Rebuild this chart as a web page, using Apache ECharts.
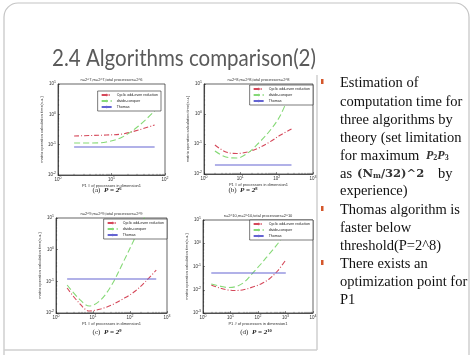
<!DOCTYPE html>
<html><head><meta charset="utf-8">
<script src="https://cdn.jsdelivr.net/npm/echarts@6/dist/echarts.min.js"></script>
<style>html,body{margin:0;padding:0;background:#fff}#c{width:474px;height:355px}</style>
</head><body><div id="c"></div>
<script>
// ---- data ----
const P1_a = [2, 4, 8, 16, 32, 64];
const cyclic_a = [0.193, 0.200, 0.208, 0.225, 0.305, 0.445];
const divide_a = [0.1135, 0.1135, 0.1225, 0.179, 0.413, 1.29];
const thomas_a = [0.0837, 0.0837, 0.0837, 0.0837, 0.0837, 0.0837];

const P1_b = [2, 4, 8, 16, 32, 64, 128, 256];
const cyclic_b = [0.0927, 0.0541, 0.0482, 0.0541, 0.0736, 0.1166, 0.1995, 0.316];
const divide_b = [0.0584, 0.0368, 0.0341, 0.0501, 0.108, 0.271, 0.926, 6.81];
const thomas_b = [0.02, 0.02, 0.02, 0.02, 0.02, 0.02, 0.02, 0.02];

const P1_c = [2, 4, 8, 16, 32, 64, 128, 256, 512];
const cyclic_c = [0.0615, 0.0222, 0.01156, 0.01337, 0.0179, 0.0277, 0.046, 0.0953, 0.228];
const divide_c = [0.0766, 0.0298, 0.0166, 0.0257, 0.0766, 0.379, 2.02, 11.6];
const thomas_c = [0.1186, 0.1186, 0.1186, 0.1186, 0.1186, 0.1186, 0.1186, 0.1186, 0.1186];

const P1_d = [2, 4, 8, 16, 32, 64, 128, 256, 512, 1024];
const cyclic_d = [0.016, 0.0119, 0.00975, 0.00929, 0.01026, 0.0131, 0.0177, 0.029, 0.064, 0.1905];
const divide_d = [0.0177, 0.0145, 0.0125, 0.0138, 0.0215, 0.0525, 0.128, 0.345, 0.929, 3.05];
const thomas_d = [0.0525, 0.0525, 0.0525, 0.0525, 0.0525, 0.0525, 0.0525, 0.0525, 0.0525, 0.0525];

const seriesNames = ['Cyclic odd-even reduction', 'divide-conquer', 'Thomas'];
const subTitles = ['n=2^7,m=2^7,total processors=2^6', 'n=2^8,m=2^8,total processors=2^8',
                   'n=2^9,m=2^9,total processors=2^9', 'n=2^10,m=2^10,total processors=2^10'];
const captionExp = ['6', '8', '9', '10'];
const captionTag = ['(a)', '(b)', '(c)', '(d)'];
const xMax = [100, 1000, 1000, 10000];
const yMin = [0.01, 0.01, 0.01, 0.001];
const yMax = [10, 10, 10, 10];
const yName = 'matrix operation calculation time(s.u.)';
const xName = 'P1 # of processors in dimension1';

const panels = [
  {P: P1_a, c: cyclic_a, d: divide_a, t: thomas_a},
  {P: P1_b, c: cyclic_b, d: divide_b, t: thomas_b},
  {P: P1_c, c: cyclic_c, d: divide_c, t: thomas_c},
  {P: P1_d, c: cyclic_d, d: divide_d, t: thomas_d}
];

// ---- layout ----
const grids = [
  {left: 58, top: 84, width: 107, height: 91},
  {left: 204, top: 84, width: 109, height: 90},
  {left: 56, top: 218, width: 111, height: 95},
  {left: 203, top: 220, width: 110, height: 93}
];
const legendPos = [
  {right: 474 - 161, top: 91},
  {right: 474 - 313, top: 85},
  {right: 474 - 167, top: 219},
  {right: 474 - 313, top: 220}
];
const captionPos = [[107, 190], [243, 190], [107, 332], [256, 332]];

const colors = ['#d5485a', '#86d977', '#6464d2'];
const dashes = [[5, 2, 1, 2], [6, 3], 'solid'];

function expFmt(v) {
  const e = Math.round(Math.log10(v));
  return '{b|10}{s|' + e + '}';
}
const tickRich = {b: {fontSize: 4.5, color: '#333'}, s: {fontSize: 3.5, color: '#333', verticalAlign: 'bottom', padding: [0, 0, 3, 0]}};

const option = {
  animation: false,
  backgroundColor: '#fff',
  grid: grids.map(g => Object.assign({show: true, borderColor: '#222', borderWidth: 0.7, backgroundColor: '#fff'}, g)),
  xAxis: grids.map((g, i) => ({
    type: 'log', logBase: 10, gridIndex: i, min: 1, max: xMax[i],
    name: xName, nameLocation: 'middle', nameGap: 6,
    nameTextStyle: {fontSize: 4, color: '#333'},
    axisLine: {lineStyle: {color: '#222', width: 0.7}},
    axisTick: {inside: true, length: 2, lineStyle: {color: '#222', width: 0.5}},
    minorTick: {show: true, splitNumber: 9, length: 1.2, lineStyle: {color: '#222', width: 0.4}},
    axisLabel: {formatter: expFmt, rich: tickRich, margin: 1.5},
    splitLine: {show: false}
  })),
  yAxis: grids.map((g, i) => ({
    type: 'log', logBase: 10, gridIndex: i, min: yMin[i], max: yMax[i],
    name: yName, nameLocation: 'middle', nameGap: 8,
    nameTextStyle: {fontSize: 4, color: '#333'},
    axisLine: {lineStyle: {color: '#222', width: 0.7}},
    axisTick: {inside: true, length: 2, lineStyle: {color: '#222', width: 0.5}},
    minorTick: {show: true, splitNumber: 9, length: 1.2, lineStyle: {color: '#222', width: 0.4}},
    axisLabel: {formatter: expFmt, rich: tickRich, margin: 2},
    splitLine: {show: false}
  })),
  legend: grids.map((g, i) => Object.assign({
    orient: 'vertical', data: seriesNames, itemWidth: 10, itemHeight: 3, itemGap: 2,
    padding: [2, 3, 2, 3], borderColor: '#222', borderWidth: 0.6, backgroundColor: '#fff',
    textStyle: {fontSize: 3.6, color: '#222', padding: [0, 0, 0, 0]}, selectedMode: false, z: 10
  }, legendPos[i])),
  series: []
};

panels.forEach((p, i) => {
  const arrs = [p.c, p.d, p.t];
  arrs.forEach((arr, k) => {
    option.series.push({
      name: seriesNames[k], type: 'line', xAxisIndex: i, yAxisIndex: i,
      data: arr.map((v, j) => [p.P[j], v]),
      smooth: k < 2 ? 0.35 : false, symbol: 'none', clip: true,
      lineStyle: {color: colors[k], width: 1.1, type: dashes[k]},
      itemStyle: {color: colors[k]}
    });
  });
});

// ---- slide text & decorations ----
const graphics = [];
graphics.push({type: 'rect', shape: {x: 4, y: 3, width: 465, height: 380, r: 14}, style: {fill: 'none', stroke: '#c4c4c4', lineWidth: 1.2}, z: 0});
graphics.push({type: 'line', shape: {x1: 317, y1: 75, x2: 317, y2: 350}, style: {stroke: '#cfcfcf', lineWidth: 1.5}});
graphics.push({type: 'line', shape: {x1: 4, y1: 350, x2: 317, y2: 350}, style: {stroke: '#cfcfcf', lineWidth: 1.5}});
graphics.push({type: 'text', x: 52, y: 58, scaleX: 0.855, style: {text: '2.4 Algorithms comparison(2)', fontSize: 24, fontFamily: "Lato, 'Open Sans', sans-serif", fill: '#5a5a5a', verticalAlign: 'middle'}});

grids.forEach((g, i) => {
  graphics.push({type: 'text', x: g.left + g.width / 2, y: g.top - 4, style: {text: subTitles[i], fontSize: 4, fill: '#333', align: 'center', verticalAlign: 'middle'}});
  const [cx, cy] = captionPos[i];
  graphics.push({type: 'text', x: cx, y: cy, style: {
    text: captionTag[i] + '  {p|P = 2}{s|' + captionExp[i] + '}', align: 'center', verticalAlign: 'middle',
    fontSize: 7, fontFamily: 'Liberation Serif', fill: '#222',
    rich: {p: {fontSize: 7, fontStyle: 'italic', fontWeight: 'bold', fontFamily: 'Liberation Serif', fill: '#222'},
           s: {fontSize: 4.5, fontWeight: 'bold', fontFamily: 'Liberation Serif', fill: '#222', verticalAlign: 'top', padding: [0, 0, 3, 0]}}
  }});
});

const serif = 'Liberation Serif';
const lines = [
  ['Estimation of', 83],
  ['computation time for', 102],
  ['three algorithms by', 120],
  ['theory (set limitation', 138],
  ['for maximum', 156],
  ['as', 174],
  ['experience)', 191],
  ['Thomas algorithm is', 210],
  ['faster below', 228],
  ['threshold(P=2^8)', 246],
  ['There exists an', 264],
  ['optimization point for', 282],
  ['P1', 300]
];
lines.forEach(([t, y]) => {
  graphics.push({type: 'text', x: 340, y: y, style: {text: t, fontSize: 14.5, fontFamily: serif, fill: '#111', verticalAlign: 'middle'}});
});
graphics.push({type: 'text', x: 426, y: 156, style: {
  text: '{i|P}{u|2}{i|P}{u|3}', verticalAlign: 'middle', fontSize: 12,
  rich: {i: {fontSize: 12, fontStyle: 'italic', fontWeight: 'bold', fontFamily: serif, fill: '#333'},
         u: {fontSize: 8, fontWeight: 'bold', fontFamily: serif, fill: '#333', verticalAlign: 'bottom', padding: [4, 0, 0, 0]}}
}});
graphics.push({type: 'text', x: 357, y: 174, style: {
  text: '{n|(N}{u|m}{n|/32)^2}', verticalAlign: 'middle', fontSize: 11.5,
  rich: {n: {fontSize: 11.5, fontWeight: 'bold', fontFamily: "'DejaVu Serif'", fill: '#333'},
         u: {fontSize: 7.5, fontWeight: 'bold', fontFamily: "'DejaVu Serif'", fill: '#333', verticalAlign: 'bottom', padding: [4, 0, 0, 0]}}
}});
graphics.push({type: 'text', x: 438, y: 174, style: {text: 'by', fontSize: 14.5, fontFamily: serif, fill: '#111', verticalAlign: 'middle'}});
[83, 210, 264].forEach(y => {
  graphics.push({type: 'rect', shape: {x: 321, y: y - 4, width: 2.5, height: 5}, style: {fill: '#d4572b'}});
});
option.graphic = graphics;

const chart = echarts.init(document.getElementById('c'), null, {renderer: 'canvas'});
chart.setOption(option);
</script></body></html>
